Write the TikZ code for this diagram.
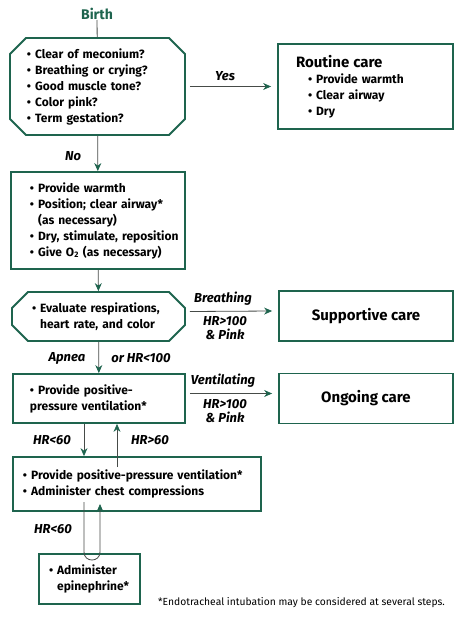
\documentclass[tikz,border=0pt]{standalone}
\usepackage{fontspec}
\setmainfont{Fira Sans}
\usetikzlibrary{arrows.meta,shapes.misc}
\definecolor{nrpgreen}{RGB}{30,100,78}
\definecolor{lineg}{RGB}{70,75,72}
\newcommand{\bul}{\textbullet\ }
\newcommand{\hang}{\phantom{\textbullet\ }}

\begin{document}
\begin{tikzpicture}[x=1pt, y=-1pt,
    box/.style = {draw=nrpgreen, line width=1.8pt, inner sep=0pt, align=left,
        font=\bfseries\fontsize{12}{16}\selectfont},
    oct/.style = {box, chamfered rectangle, chamfered rectangle xsep=8pt,
        chamfered rectangle ysep=8pt},
    care/.style = {box, minimum width=174pt, minimum height=50pt, align=center,
        font=\bfseries\fontsize{15}{18}\selectfont},
    flow/.style = {draw=lineg, line width=0.8pt, -{Stealth[nrpgreen, length=8pt, width=7pt]}},
    plain/.style = {draw=lineg, line width=0.8pt},
    lab/.style = {inner sep=0pt, align=center, font=\bfseries\itshape\fontsize{13}{14}\selectfont}]

\useasboundingbox (0,0) rectangle (466,619);

% boxes
\node[text=nrpgreen, font=\bfseries\fontsize{14}{16}\selectfont, inner sep=0pt] (birth) at (97,14) {Birth};
\node[oct, minimum width=175pt, minimum height=97pt, text width=141pt] (assess) at (97.5,86.5)
    {\bul Clear of meconium?\\ \bul Breathing or crying?\\ \bul Good muscle tone?\\ \bul Color pink?\\ \bul Term gestation?};
\node[box, minimum width=175pt, minimum height=85pt, text width=139pt] (routine) at (365.5,86.5)
    {{\fontsize{15}{17}\selectfont Routine care}\\ \hspace*{12pt}\bul Provide warmth\\ \hspace*{12pt}\bul Clear airway\\ \hspace*{12pt}\bul Dry};
\node[box, minimum width=174pt, minimum height=97pt, text width=136pt] (warm) at (98,220.5)
    {\bul Provide warmth\\ \mbox{\bul Position; clear airway*}\\ \hang(as necessary)\\ \mbox{\bul Dry, stimulate, reposition}\\ \mbox{\bul Give O\textsubscript{2} (as necessary)}};
\node[oct, minimum width=173pt, minimum height=49pt, text width=133pt] (eval) at (98.5,316.5)
    {\mbox{\bul Evaluate respirations,}\\ \hang heart rate, and color};
\node[care] (support) at (366,316) {Supportive care};
\node[box, minimum width=172pt, minimum height=49pt, text width=138pt] (ppv) at (99,398.5)
    {\bul Provide positive-\\ pressure ventilation*};
\node[care] (ongoing) at (366,398.5) {Ongoing care};
\node[box, minimum width=248pt, minimum height=54pt, text width=228pt] (chest) at (137,484)
    {\mbox{\bul Provide positive-pressure ventilation*}\\ \bul Administer chest compressions};
\node[box, minimum width=101pt, minimum height=50pt, text width=81pt] (epi) at (89.5,579)
    {\bul Administer\\ \hang epinephrine*};
\node[inner sep=0pt, anchor=west, font=\fontsize{10.3}{12}\selectfont] (note) at (158,603)
    {*Endotracheal intubation may be considered at several steps.};

% connectors
\draw[plain] (birth) -- (assess);
\draw[flow] (assess) -- (warm);
\draw[flow] ([xshift=4pt]assess.east) -- ([xshift=-6pt]routine.west);
\draw[flow] (warm) -- (eval);
\draw[flow] ([xshift=4pt,yshift=5pt]eval.east) -- ([xshift=-6pt,yshift=5pt]support.west);
\draw[flow] (eval) -- (ppv);
\draw[flow] ([xshift=4pt,yshift=5pt]ppv.east) -- ([xshift=-6pt,yshift=5pt]ongoing.west);
\draw[flow] (ppv.south -| 84,0) -- (chest.north -| 84,0);
\coordinate (back) at (117,467);
\draw[flow] (back) -- (ppv.south -| back);
\coordinate (down) at (84,502);
\coordinate (up) at (100,504);
\draw[flow] (down) -- (84,552) .. controls (84,562.7) and (100,562.7) .. (100,552) -- (up);

% labels
\node[lab] (yes) at (225,76) {Yes};
\node[lab] (no) at (73,156) {No};
\node[lab] (breath) at (223,299) {Breathing};
\node[lab] (hr1) at (225,328) {HR>100\\ \& Pink};
\node[lab] (apnea) at (67,358) {Apnea};
\node[lab] (hr2) at (141,358) {or HR<100};
\node[lab] (vent) at (223,381) {Ventilating};
\node[lab] (hr3) at (225,411) {HR>100\\ \& Pink};
\node[lab] (hr4) at (52,440) {HR<60};
\node[lab] (hr5) at (150,440) {HR>60};
\node[lab] (hr6) at (53,529) {HR<60};
\end{tikzpicture}
\end{document}
